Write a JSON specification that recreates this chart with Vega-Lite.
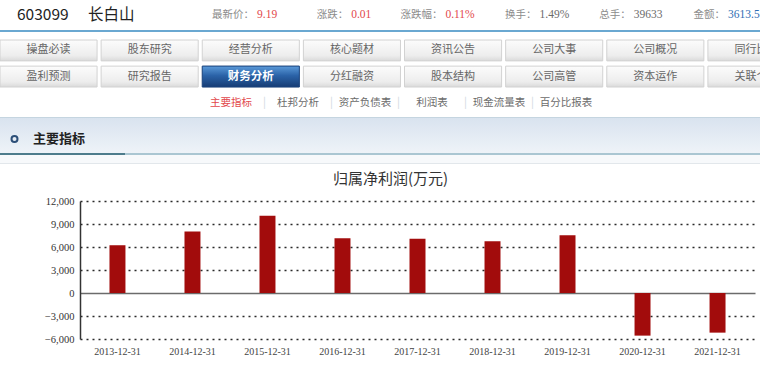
{
  "$schema": "https://vega.github.io/schema/vega-lite/v6.json",
  "background": "#ffffff",
  "padding": 0,
  "spacing": 0,
  "config": {"view": {"stroke": null}, "font": "Noto Sans CJK SC"},
  "datasets": {
    "head": [{"item": "code", "text": "603099"}, {"item": "name", "text": "长白山"}],
    "stats": [
      {"stat": "最新价", "label": "最新价：", "value": "9.19", "kind": "up"},
      {"stat": "涨跌", "label": "涨跌：", "value": "0.01", "kind": "up"},
      {"stat": "涨跌幅", "label": "涨跌幅：", "value": "0.11%", "kind": "up"},
      {"stat": "换手", "label": "换手：", "value": "1.49%", "kind": "plain"},
      {"stat": "总手", "label": "总手：", "value": "39633", "kind": "plain"},
      {"stat": "金额", "label": "金额：", "value": "3613.5", "kind": "amount"}
    ],
    "tabs": [
      {"row": 1, "col": 1, "tab": "操盘必读"},
      {"row": 1, "col": 2, "tab": "股东研究"},
      {"row": 1, "col": 3, "tab": "经营分析"},
      {"row": 1, "col": 4, "tab": "核心题材"},
      {"row": 1, "col": 5, "tab": "资讯公告"},
      {"row": 1, "col": 6, "tab": "公司大事"},
      {"row": 1, "col": 7, "tab": "公司概况"},
      {"row": 1, "col": 8, "tab": "同行比较"},
      {"row": 2, "col": 1, "tab": "盈利预测"},
      {"row": 2, "col": 2, "tab": "研究报告"},
      {"row": 2, "col": 3, "tab": "财务分析"},
      {"row": 2, "col": 4, "tab": "分红融资"},
      {"row": 2, "col": 5, "tab": "股本结构"},
      {"row": 2, "col": 6, "tab": "公司高管"},
      {"row": 2, "col": 7, "tab": "资本运作"},
      {"row": 2, "col": 8, "tab": "关联个股"}
    ],
    "subnav": [
      {"item": "主要指标", "state": "current"},
      {"item": "杜邦分析", "state": "other"},
      {"item": "资产负债表", "state": "other"},
      {"item": "利润表", "state": "other"},
      {"item": "现金流量表", "state": "other"},
      {"item": "百分比报表", "state": "other"}
    ],
    "section": [{"part": "icon", "text": ""}, {"part": "title", "text": "主要指标"}],
    "fill": [{}],
    "profit": [
      {"date": "2013-12-31", "profit": 6230},
      {"date": "2014-12-31", "profit": 8020},
      {"date": "2015-12-31", "profit": 10080},
      {"date": "2016-12-31", "profit": 7150},
      {"date": "2017-12-31", "profit": 7060},
      {"date": "2018-12-31", "profit": 6750},
      {"date": "2019-12-31", "profit": 7540},
      {"date": "2020-12-31", "profit": -5560},
      {"date": "2021-12-31", "profit": -5170}
    ]
  },
  "vconcat": [
    {
      "width": 760,
      "height": 30,
      "layer": [
        {
          "data": {"name": "head"},
          "mark": {"type": "text", "align": "left", "fontSize": 15.5, "color": "#222222"},
          "encoding": {
            "x": {"field": "item", "type": "ordinal", "sort": ["code", "name"], "scale": {"type": "point", "range": [17, 88], "padding": 0}, "axis": null},
            "text": {"field": "text"}
          }
        },
        {
          "data": {"name": "stats"},
          "mark": {"type": "text", "align": "right", "dx": -3, "fontSize": 10.5, "color": "#8c8c8c"},
          "encoding": {
            "x": {"field": "stat", "type": "ordinal", "sort": null, "scale": {"type": "point", "range": [257, 728], "padding": 0}, "axis": null},
            "text": {"field": "label"}
          }
        },
        {
          "data": {"name": "stats"},
          "mark": {"type": "text", "align": "left", "fontSize": 11.5, "font": "Liberation Serif"},
          "encoding": {
            "x": {"field": "stat", "type": "ordinal", "sort": null, "scale": {"type": "point", "range": [257, 728], "padding": 0}, "axis": null},
            "text": {"field": "value"},
            "color": {"field": "kind", "type": "nominal", "scale": {"domain": ["up", "plain", "amount"], "range": ["#e2474b", "#6b6b6b", "#2f6db3"]}, "legend": null}
          }
        }
      ],
      "resolve": {"scale": {"x": "independent"}}
    },
    {
      "width": 760,
      "height": 2,
      "data": {"name": "fill"},
      "mark": {"type": "rect", "color": "#6aa8d1"},
      "encoding": {}
    },
    {
      "width": 760,
      "height": 60,
      "data": {"name": "tabs"},
      "encoding": {
        "x": {"field": "col", "type": "ordinal", "scale": {"range": [0, 805], "paddingInner": 0.04, "paddingOuter": 0}, "axis": null},
        "y": {"field": "row", "type": "ordinal", "scale": {"range": [8, 55], "paddingInner": 0.2, "paddingOuter": 0}, "axis": null}
      },
      "layer": [
        {
          "mark": {"type": "rect", "clip": true, "stroke": "#d2d2d2", "strokeWidth": 1,
            "fill": {"gradient": "linear", "x1": 0, "y1": 0, "x2": 0, "y2": 1, "stops": [{"offset": 0, "color": "#fcfcfc"}, {"offset": 0.75, "color": "#ededed"}, {"offset": 1, "color": "#dadada"}]}}
        },
        {
          "transform": [{"filter": "datum.tab === '财务分析'"}],
          "mark": {"type": "rect", "clip": true, "stroke": "#1b4580", "strokeWidth": 1,
            "fill": {"gradient": "linear", "x1": 0, "y1": 0, "x2": 0, "y2": 1, "stops": [{"offset": 0, "color": "#5b9ad9"}, {"offset": 0.45, "color": "#2b63a8"}, {"offset": 1, "color": "#163c74"}]}}
        },
        {
          "transform": [{"filter": "datum.tab !== '财务分析'"}],
          "mark": {"type": "text", "clip": true, "fontSize": 11, "color": "#666666"},
          "encoding": {"text": {"field": "tab"}}
        },
        {
          "transform": [{"filter": "datum.tab === '财务分析'"}],
          "mark": {"type": "text", "fontSize": 11.5, "fontWeight": "bold", "color": "#ffffff"},
          "encoding": {"text": {"field": "tab"}}
        }
      ]
    },
    {
      "width": 760,
      "height": 25,
      "data": {"name": "subnav"},
      "encoding": {
        "x": {"field": "item", "type": "ordinal", "sort": null, "scale": {"type": "point", "range": [231, 566], "padding": 0}, "axis": null}
      },
      "layer": [
        {
          "mark": {"type": "text", "fontSize": 10.5, "dy": -2},
          "encoding": {
            "text": {"field": "item"},
            "color": {"field": "state", "type": "nominal", "scale": {"domain": ["current", "other"], "range": ["#f4a340", "#4f6f98"]}, "legend": null}
          }
        },
        {
          "transform": [{"filter": "datum.item !== '百分比报表'"}],
          "mark": {"type": "text", "text": "|", "dx": 33.5, "dy": -2, "fontSize": 11, "color": "#d0d8e0"}
        }
      ]
    },
    {
      "width": 760,
      "height": 1,
      "data": {"name": "fill"},
      "mark": {"type": "rect", "color": "#c5d5e0"},
      "encoding": {}
    },
    {
      "width": 760,
      "height": 35,
      "layer": [
        {
          "data": {"name": "fill"},
          "mark": {"type": "rect",
            "fill": {"gradient": "linear", "x1": 0, "y1": 0, "x2": 0, "y2": 1, "stops": [{"offset": 0, "color": "#d9e3ef"}, {"offset": 1, "color": "#eef3f8"}]}},
          "encoding": {}
        },
        {
          "data": {"name": "section"},
          "encoding": {
            "x": {"field": "part", "type": "ordinal", "sort": ["icon", "title"], "scale": {"type": "point", "range": [14.5, 33], "padding": 0}, "axis": null},
            "y": {"field": "part", "type": "ordinal", "scale": {"type": "point", "range": [21, 21], "padding": 0}, "axis": null}
          },
          "layer": [
            {
              "transform": [{"filter": "datum.part === 'icon'"}],
              "mark": {"type": "point", "shape": "circle", "filled": false, "stroke": "#2c4f78", "strokeWidth": 2, "size": 36, "opacity": 1}
            },
            {
              "transform": [{"filter": "datum.part === 'title'"}],
              "mark": {"type": "text", "align": "left", "fontSize": 13, "fontWeight": "bold", "color": "#222222"},
              "encoding": {"text": {"field": "text"}}
            }
          ]
        }
      ]
    },
    {
      "width": 760,
      "height": 2,
      "layer": [
        {"data": {"name": "fill"}, "mark": {"type": "rect", "color": "#aac6d2"}, "encoding": {}},
        {
          "data": {"name": "section"},
          "transform": [{"filter": "datum.part === 'title'"}],
          "mark": {"type": "rect", "color": "#4d7c8c"},
          "encoding": {"x": {"field": "text", "type": "ordinal", "scale": {"range": [0, 125], "paddingInner": 0, "paddingOuter": 0}, "axis": null}}
        }
      ]
    },
    {
      "width": 760,
      "height": 8,
      "data": {"name": "fill"},
      "mark": {"type": "rect", "color": "#f7f9fb"},
      "encoding": {}
    },
    {
      "width": 760,
      "height": 1,
      "data": {"name": "fill"},
      "mark": {"type": "rect", "color": "#e2e7eb"},
      "encoding": {}
    },
    {
      "width": 760,
      "height": 8,
      "data": {"name": "fill"},
      "mark": {"type": "rect", "color": "#ffffff"},
      "encoding": {}
    },
    {
      "spacing": 0,
      "hconcat": [
        {
          "width": 1,
          "height": 138,
          "data": {"name": "fill"},
          "mark": {"type": "rect", "color": "#ffffff"},
          "encoding": {}
        },
        {
          "width": 675,
          "height": 138,
          "title": {"text": "归属净利润(万元)", "fontSize": 15, "fontWeight": "normal", "color": "#333333", "font": "Noto Sans CJK SC", "anchor": "middle", "dx": -27, "offset": 9},
          "data": {"name": "profit"},
          "mark": {"type": "bar", "color": "#a20c0c"},
          "encoding": {
            "x": {
              "field": "date", "type": "ordinal", "sort": null,
              "scale": {"paddingInner": 0.787, "paddingOuter": 0.393},
              "axis": {"title": null, "domain": false, "ticks": false, "labelPadding": 7, "labelAngle": 0, "labelFont": "Liberation Serif", "labelFontSize": 10, "labelColor": "#444444", "grid": false}
            },
            "y": {
              "field": "profit", "type": "quantitative",
              "scale": {"domain": [-6000, 12000], "nice": false, "zero": true},
              "axis": {
                "title": null, "values": [-6000, -3000, 0, 3000, 6000, 9000, 12000], "format": ",.0f",
                "domain": true, "domainColor": "#333333", "domainWidth": 1.5, "ticks": false, "labelPadding": 6,
                "labelFont": "Liberation Serif", "labelFontSize": 10.5, "labelColor": "#333333",
                "grid": true,
                "gridColor": {"condition": {"test": "datum.value === 0", "value": "#6b6b6b"}, "value": "#2a2a2a"},
                "gridDash": {"condition": {"test": "datum.value === 0", "value": []}, "value": [2, 4]},
                "gridWidth": 1.5,
                "minExtent": 79, "maxExtent": 79
              }
            }
          }
        }
      ]
    }
  ]
}
